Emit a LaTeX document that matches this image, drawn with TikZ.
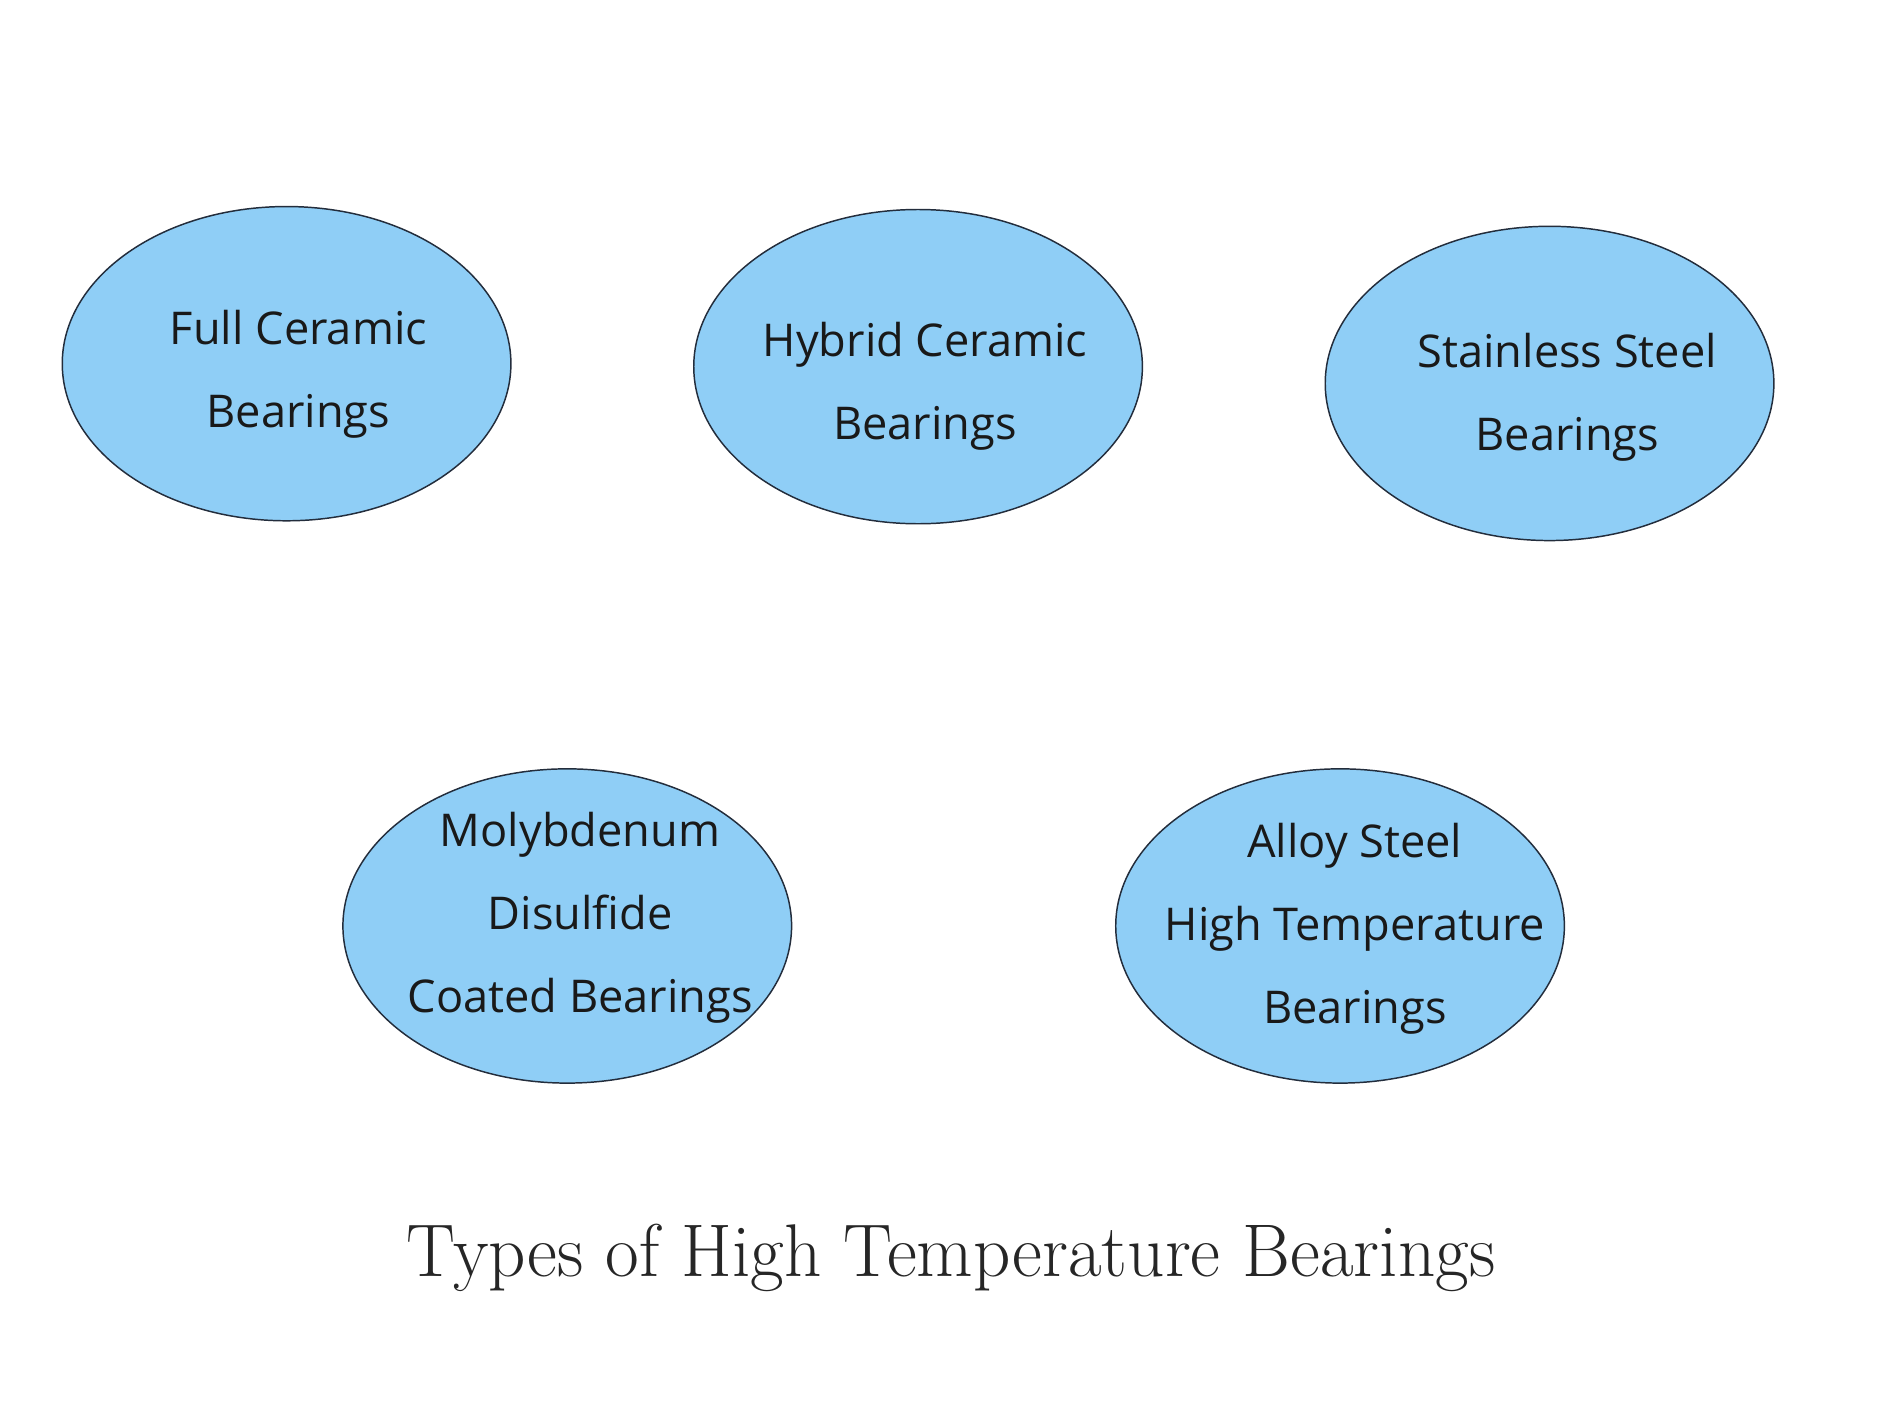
\documentclass[tikz,border=0pt]{standalone}
\usepackage{fontspec}
\setsansfont{Open Sans}
\usetikzlibrary{shapes.geometric}
\definecolor{bubblefill}{RGB}{143,206,246}
\definecolor{bubbleedge}{RGB}{35,45,60}
\begin{document}
\begin{tikzpicture}
    [
    bubble/.style={ellipse,draw=bubbleedge,fill=bubblefill,line width=0.85pt,inner sep=0pt,minimum width=9.08cm,minimum height=6.36cm},
    caption/.style={align=center,inner sep=0pt,font=\sffamily\fontsize{26}{47.8}\selectfont,text=black!90},
    heading/.style={anchor=base,inner sep=0pt,font=\fontsize{43}{50}\selectfont,text=black!85,xscale=0.98,transform shape}
    ]
    \useasboundingbox (0,-0.34) rectangle (38.25,28.34);
    \node (full) at (5.80,20.98) [bubble] {};
    \node (hybrid) at (18.58,20.92) [bubble] {};
    \node (stainless) at (31.36,20.58) [bubble] {};
    \node (moly) at (11.48,9.60) [bubble] {};
    \node (alloy) at (27.12,9.60) [bubble] {};
    \node (fulltxt) at ([xshift=0.24cm,yshift=-0.22cm]full.center) [caption] {Full Ceramic\\Bearings};
    \node (hybridtxt) at ([xshift=0.14cm,yshift=-0.40cm]hybrid.center) [caption] {Hybrid Ceramic\\Bearings};
    \node (stainlesstxt) at ([xshift=0.36cm,yshift=-0.28cm]stainless.center) [caption] {Stainless Steel\\Bearings};
    \node (molytxt) at ([xshift=0.26cm,yshift=0.16cm]moly.center) [caption] {Molybdenum\\Disulfide\\Coated Bearings};
    \node (alloytxt) at ([xshift=0.30cm,yshift=-0.06cm]alloy.center) [caption] {Alloy Steel\\High Temperature\\Bearings};
    \node (heading) at (19.24,2.50) [heading] {Types of High Temperature Bearings};
  \end{tikzpicture}
\end{document}
